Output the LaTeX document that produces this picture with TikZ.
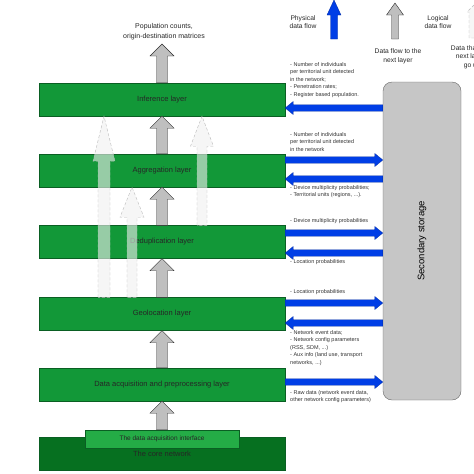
\documentclass[tikz,border=0pt]{standalone}
\usepackage{fontspec}
\setmainfont{Liberation Sans}
\usetikzlibrary{calc}

\definecolor{layergreen}{RGB}{18,152,56}
\definecolor{layerline}{RGB}{10,95,35}
\definecolor{coregreen}{RGB}{6,112,32}
\definecolor{ifacegreen}{RGB}{36,172,70}
\definecolor{flowblue}{RGB}{0,62,230}
\definecolor{storegray}{RGB}{198,198,198}

\tikzstyle{layer} = [rectangle, draw=layerline, fill=layergreen, minimum width=246pt, minimum height=33pt, inner sep=0pt, text=black!85, font=\fontsize{7.5}{9}\selectfont]
\tikzstyle{storage} = [rectangle, draw=gray!80!black, fill=storegray, rounded corners=9pt, minimum width=78pt, minimum height=318pt]
\tikzstyle{note} = [anchor=north west, inner sep=0pt, align=left, text=black!80, font=\fontsize{5.5}{7.4}\selectfont]
\tikzstyle{legend} = [align=center, inner sep=0pt, text=black!85, font=\fontsize{6.7}{8.7}\selectfont]

\tikzset{
  shaft/.store in=\shaftw, head/.store in=\headw, headlen/.store in=\headl,
  shaft=5.5pt, head=12pt, headlen=12pt,
  fat/.style={to path={let \p1=(\tikztostart), \p2=(\tikztotarget),
      \n1={veclen(\x2-\x1,\y2-\y1)}, \n2={(\x2-\x1)/\n1}, \n3={(\y2-\y1)/\n1} in
      ({\x1-\n3*\shaftw},{\y1+\n2*\shaftw})
      -- ({\x2-\n2*\headl-\n3*\shaftw},{\y2-\n3*\headl+\n2*\shaftw})
      -- ({\x2-\n2*\headl-\n3*\headw},{\y2-\n3*\headl+\n2*\headw})
      -- (\x2,\y2)
      -- ({\x2-\n2*\headl+\n3*\headw},{\y2-\n3*\headl-\n2*\headw})
      -- ({\x2-\n2*\headl+\n3*\shaftw},{\y2-\n3*\headl-\n2*\shaftw})
      -- ({\x1+\n3*\shaftw},{\y1-\n2*\shaftw}) -- cycle}},
  grayflow/.style={fat, fill=gray!50, draw=gray!35!black, line width=0.4pt},
  fadeflow/.style={fat, fill=gray!12, fill opacity=0.6, draw=gray!55, densely dashed, line width=0.4pt, shaft=5pt, head=12pt, headlen=30pt},
  blueflow/.style={fat, fill=flowblue, draw=flowblue!70!black, line width=0.3pt, shaft=3.2pt, head=6.5pt, headlen=8pt}
}

\begin{document}
\begin{tikzpicture}[x=1pt, y=-1pt]
    \useasboundingbox (0,0) rectangle (474,474);
    \clip (0,0) rectangle (474,474);

    % Layers
    \node[layer, fill=coregreen] (core) at (162,453.5) {The core network};
    \node[layer, fill=ifacegreen, minimum width=154pt, minimum height=18pt, font=\fontsize{6.5}{8}\selectfont] (iface) at (162,439) {The data acquisition interface};
    \node[layer] (acq) at (162,384.5) {Data acquisition and preprocessing layer};
    \node[layer] (geo) at (162,314) {Geolocation layer};
    \node[layer] (ded) at (162,242) {Deduplication layer};
    \node[layer] (agg) at (162,170.5) {Aggregation layer};
    \node[layer] (inf) at (162,99.5) {Inference layer};

    % Secondary storage
    \node[storage] (store) at (422,241) {};
    \node[rotate=90, font=\fontsize{9.5}{11}\selectfont] (storelabel) at (store.center) {Secondary storage};

    % Final output
    \node[anchor=south, inner sep=3.5pt, align=center, text=black!85, font=\fontsize{7}{10}\selectfont] (result) at (164,44) {Population counts,\\origin-destination matrices};

    % Data flow to the next layer
    \draw[grayflow] (inf.north) to (inf.north |- result.south);
    \draw[grayflow] (agg.north) to (inf.south);
    \draw[grayflow] (ded.north) to (agg.south);
    \draw[grayflow] (geo.north) to (ded.south);
    \draw[grayflow] (acq.north) to (geo.south);
    \draw[grayflow] (iface.north) to (acq.south);

    % Data going further up
    \draw[fadeflow, shaft=6pt, head=11pt, headlen=45pt] ([xshift=-58pt]geo.north) to ([xshift=-58pt]inf.south);
    \draw[fadeflow] ([xshift=-30pt]geo.north) to ([xshift=-30pt]agg.south);
    \draw[fadeflow, head=11.5pt] ([xshift=40pt]ded.north) to ([xshift=40pt]inf.south);

    % Exchanges with the secondary storage
    \coordinate (infL) at ([yshift=-8.5pt]inf.east);
    \coordinate (aggR) at ([yshift=10.5pt]agg.east);
    \coordinate (aggL) at ([yshift=-8.5pt]agg.east);
    \coordinate (dedR) at ([yshift=9pt]ded.east);
    \coordinate (dedL) at ([yshift=-11pt]ded.east);
    \coordinate (geoR) at ([yshift=11pt]geo.east);
    \coordinate (geoL) at ([yshift=-9pt]geo.east);
    \coordinate (acqR) at ([yshift=2.5pt]acq.east);
    \draw[blueflow] (infL -| store.west) to (infL);
    \draw[blueflow] (aggR) to (aggR -| store.west);
    \draw[blueflow] (aggL -| store.west) to (aggL);
    \draw[blueflow] (dedR) to (dedR -| store.west);
    \draw[blueflow] (dedL -| store.west) to (dedL);
    \draw[blueflow] (geoR) to (geoR -| store.west);
    \draw[blueflow] (geoL -| store.west) to (geoL);
    \draw[blueflow] (acqR) to (acqR -| store.west);

    % What is exchanged
    \node[note] (infin) at (290,62.4) {- Number of individuals\\per territorial unit detected\\in the network;\\- Penetration rates;\\- Register based population.};
    \node[note] (aggout) at (290,132.4) {- Number of individuals\\per territorial unit detected\\in the network};
    \node[note] (aggin) at (290,185.4) {- Device multiplicity probabilities;\\- Territorial units (regions, ...).};
    \node[note] (dedout) at (290,218.4) {- Device multiplicity probabilities};
    \node[note] (dedin) at (290,259.4) {- Location probabilities};
    \node[note] (geoout) at (290,289.4) {- Location probabilities};
    \node[note] (geoin) at (290,330.4) {- Network event data;\\- Network config parameters\\(RSS, SDM, ...)\\- Aux info (land use, transport\\networks, ...)};
    \node[note] (acqout) at (290,390.4) {- Raw data (network event data,\\other network config parameters)};

    % Legend
    \node[legend] (physical) at (303,22) {Physical\\data flow};
    \coordinate (physbot) at (334,39);
    \coordinate (phystop) at (334,0);
    \draw[blueflow, shaft=3.5pt, head=7pt, headlen=15pt] (physbot) to (phystop);
    \coordinate (logbot) at (395,39);
    \coordinate (logtop) at (395,3);
    \draw[grayflow, shaft=3.5pt, head=8.5pt, headlen=12pt] (logbot) to (logtop);
    \node[legend] (logical) at (438,22) {Logical\\data flow};
    \node[legend] (nextlayer) at (398,56.5) {Data flow to the\\next layer};
    \coordinate (skipbot) at (477,38);
    \coordinate (skiptop) at (477,2);
    \draw[fadeflow, shaft=8pt, head=10pt, headlen=10pt] (skipbot) to (skiptop);
    \node[legend] (skip) at (477,57) {Data that skip the\\next layer and\\go upper};
\end{tikzpicture}
\end{document}
